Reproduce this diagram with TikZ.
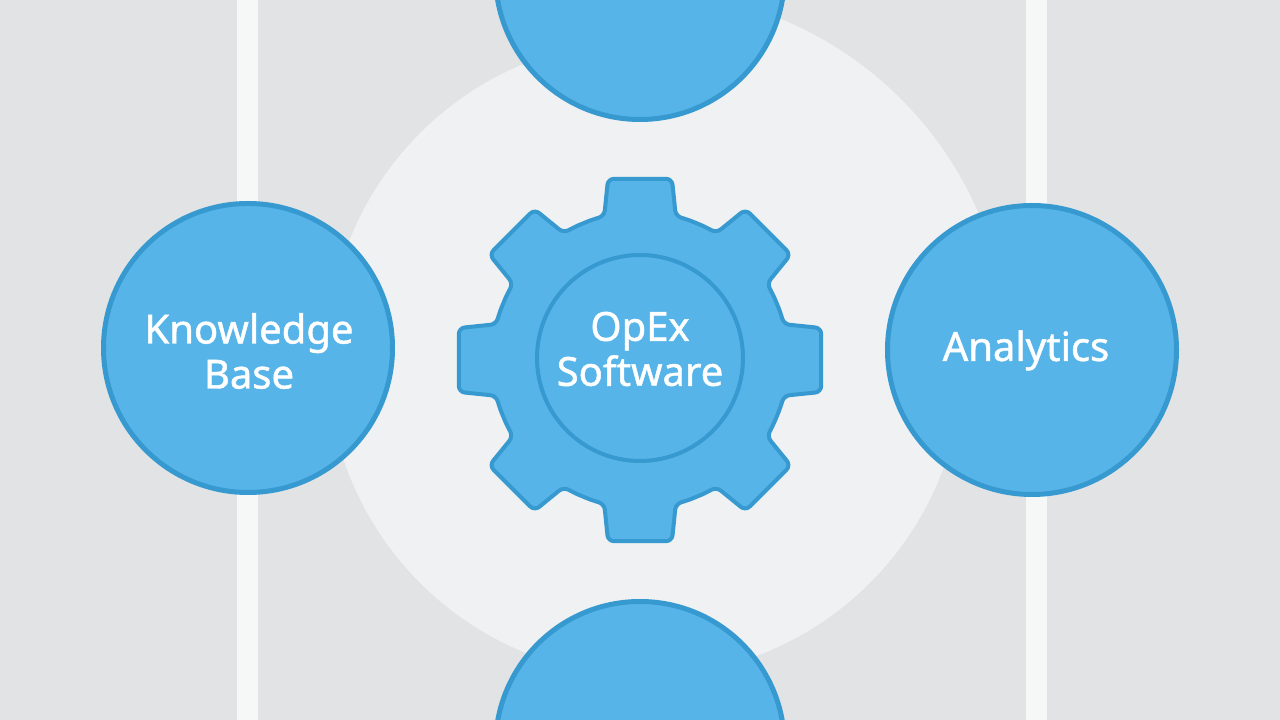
\documentclass[tikz,border=0pt]{standalone}
\usepackage{fontspec}
\newfontfamily\lab[FakeBold=1.2]{Noto Sans}
\definecolor{bgpanel}{HTML}{E1E3E4}
\definecolor{barcol}{HTML}{F6F8F8}
\definecolor{halo}{HTML}{EFF1F2}
\definecolor{blue}{HTML}{57B4E8}
\definecolor{rim}{HTML}{3699D0}
\tikzset{
  disc/.style={circle,draw=rim,fill=blue,line width=5pt,minimum size=289pt,inner sep=0pt,outer sep=0pt},
  inner disc/.style={circle,draw=rim,line width=4pt,minimum size=206pt,inner sep=0pt},
  bar/.style={fill=barcol,draw=none},
  labeltext/.style={text=white,align=center,inner sep=0pt,font=\lab\fontsize{40}{45}\selectfont}
}
\begin{document}
\begin{tikzpicture}[x=1pt,y=1pt]
\useasboundingbox (0,0) rectangle (1280,720);
\clip (0,0) rectangle (1280,720);
\fill[bgpanel] (0,0) rectangle (1280,720);
\fill[bar] (237,0) rectangle (258,720);
\fill[bar] (1026,0) rectangle (1047,720);
% pale halo: a circle with a wider sector at the upper right
\fill[halo] (645,362) circle[radius=318];
\fill[halo] (640,360) -- ++(20:369) arc[start angle=20,end angle=70,radius=369] -- cycle;
% gear
\begin{scope}[shift={(640,360)}]
\draw[fill=blue,draw=rim,line width=4pt,rounded corners=6pt,line join=round,line cap=round]
  (-22.5:148)
  \foreach \a in {0,45,...,315}{
    arc[start angle=\a-22.5,end angle=\a-14,radius=148]
    -- ({\a-10}:184) -- ({\a+10}:184) -- ({\a+14}:148)
    arc[start angle=\a+14,end angle=\a+22.5,radius=148]
  };
\end{scope}
\node[inner disc] (ring) at (640,362) {};
\node[labeltext] (opex) at (640,371) {OpEx\\Software};
\node[disc] (kb) at (248,372) {};
\node[labeltext] (kbtext) at (249,369) {Knowledge\\Base};
\node[disc] (an) at (1032,370) {};
\node[labeltext] (antext) at (1026,369.5) {Analytics};
\node[disc] (top) at (640,745) {};
\node[disc] (bot) at (640,-26) {};
\end{tikzpicture}
\end{document}
